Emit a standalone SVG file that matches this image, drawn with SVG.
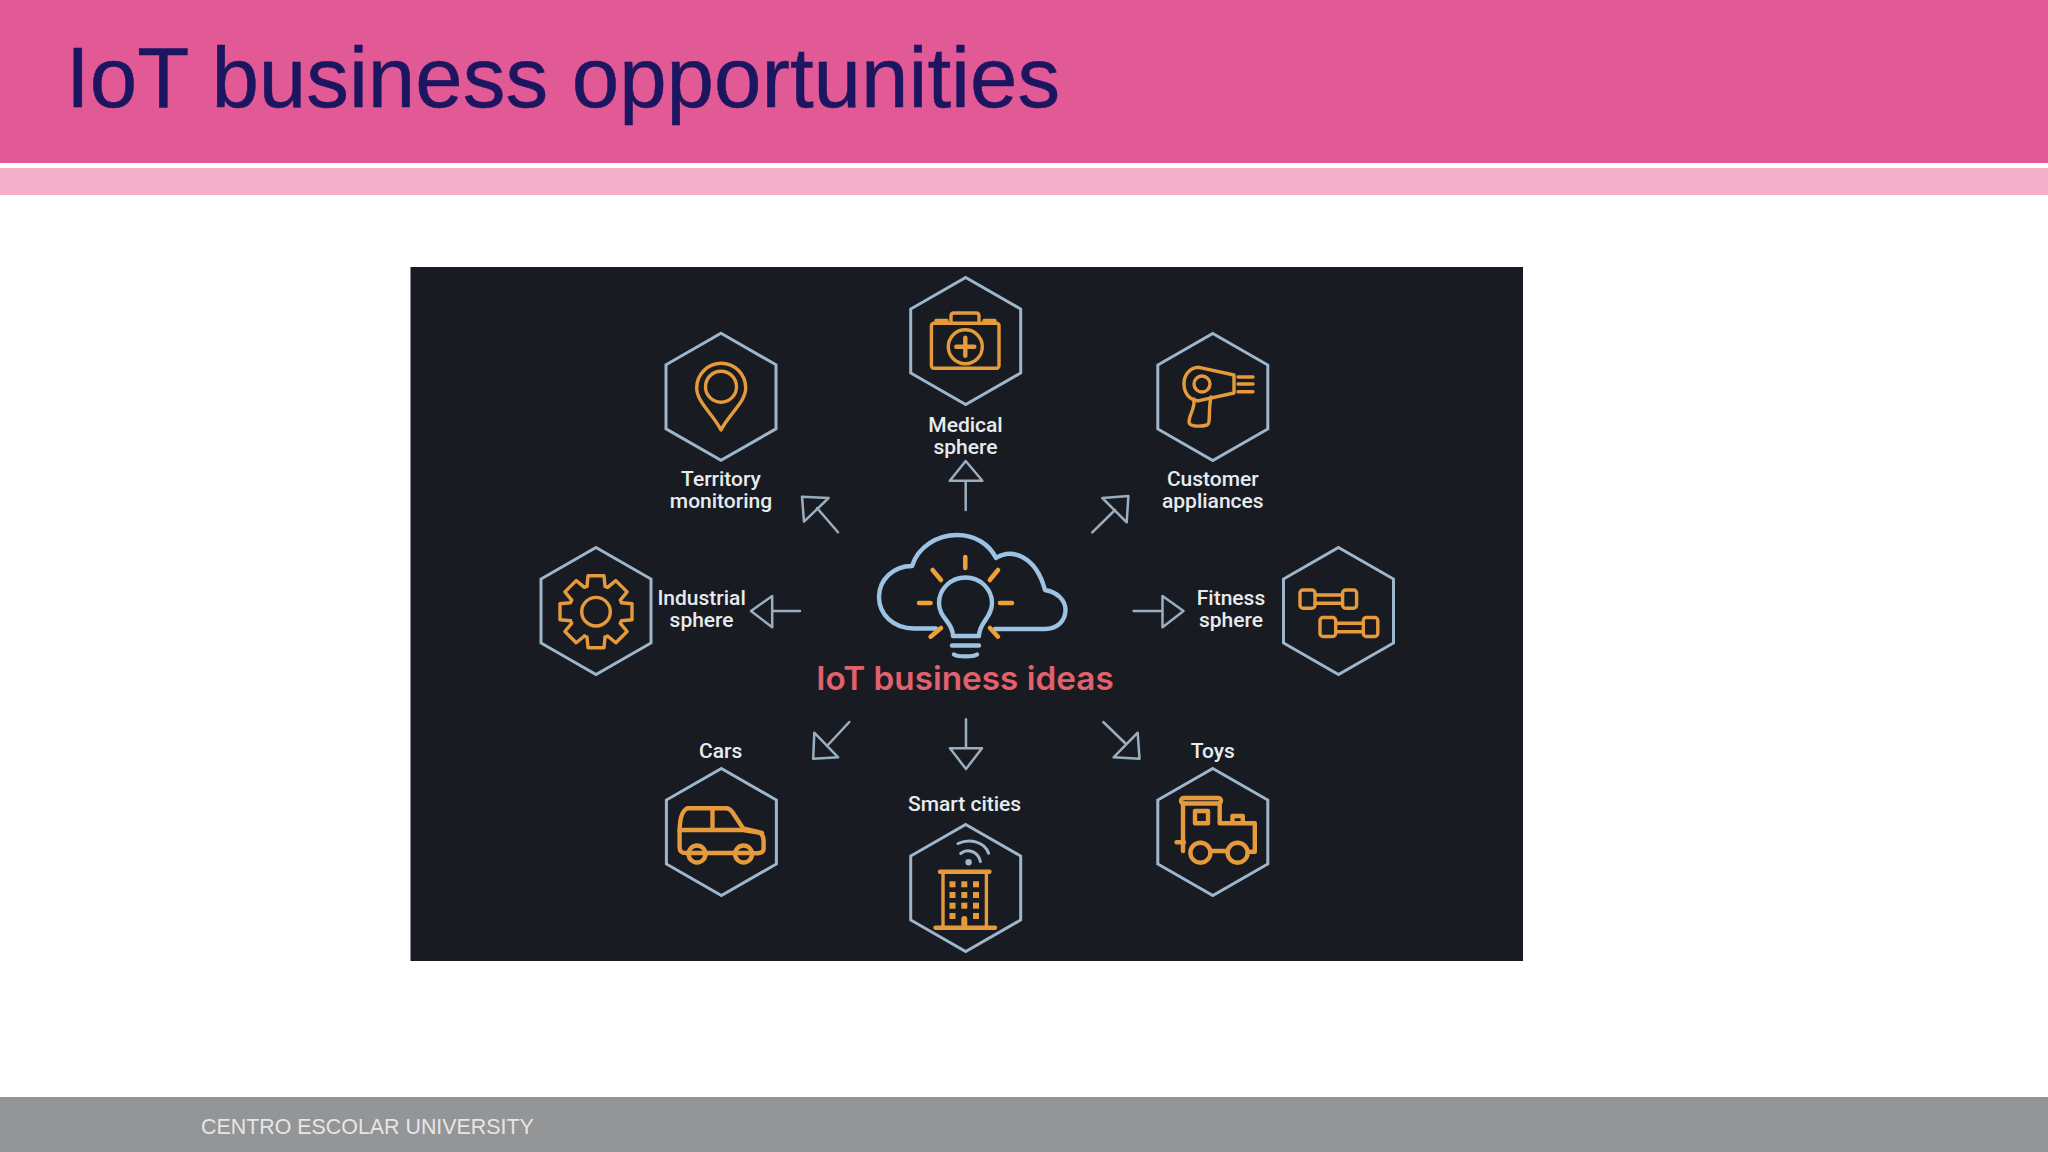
<svg xmlns="http://www.w3.org/2000/svg" xmlns:xlink="http://www.w3.org/1999/xlink" width="2048" height="1152" viewBox="0 0 2048 1152">
<style>
.hex{fill:none;stroke:#9db6cc;stroke-width:3;stroke-linejoin:miter}
.ic{fill:none;stroke:#e59a3c;stroke-width:3.4;stroke-linejoin:round;stroke-linecap:round}
.ict{fill:none;stroke:#e59a3c;stroke-width:4.4;stroke-linejoin:round;stroke-linecap:round}
.win{fill:#e59a3c}
.arr{fill:none;stroke:#9aaebf;stroke-width:2.5;stroke-linejoin:round;stroke-linecap:round}
.cl{fill:none;stroke:#9cc3e4;stroke-width:4.4;stroke-linejoin:round;stroke-linecap:round}
.ray{fill:none;stroke:#eda136;stroke-width:4.5;stroke-linecap:round}
.lb{font-family:Roboto,"Liberation Sans",sans-serif;font-weight:500;font-size:21px;fill:#e8ebee;text-anchor:middle}
</style>
<defs>
<polygon id="hx" class="hex" points="0,-63.5 55,-32 55,32 0,63.5 -55,32 -55,-32"/>
<path id="tooth" d="M-9 -25.4L-8 -36H8L9 -25.4A27 27 0 0 1 11.6 -24.4"/>
</defs>
<rect width="2048" height="1152" fill="#ffffff"/>
<rect id="header" width="2048" height="163" fill="#e15a96"/>
<rect id="band" y="168" width="2048" height="27" fill="#f4afcb"/>
<text id="title" x="66" y="107" font-family="'Liberation Sans',Arial,sans-serif" font-size="85.3" fill="#1c1560" stroke="#1c1560" stroke-width="0.5">IoT business opportunities</text>
<rect id="footer" y="1097" width="2048" height="55" fill="#949596"/>
<text id="footer-text" x="201" y="1134" font-family="'Liberation Sans',Arial,sans-serif" font-size="21.4" fill="#e6e6e6">CENTRO ESCOLAR UNIVERSITY</text>
<rect id="panel" x="410.5" y="267" width="1112.5" height="694" fill="#181c22"/>

<g id="connectors">
<path class="arr" d="M965.7 510V481M965.7 461L949.8 480.7H982.4Z"/>
<path class="arr" d="M838 532.3L817 508M802 496.7L828.6 498L804 521.7Z"/>
<path class="arr" d="M800 611H772M751 611L772.2 596V627.3Z"/>
<path class="arr" d="M1092.3 532.3L1115 510M1128.4 496L1102.3 498L1126.7 522.3Z"/>
<path class="arr" d="M1133.6 611H1162M1183.5 611L1162.5 596V627.3Z"/>
<path class="arr" d="M849.3 722L827 746M813.2 758.7L814.3 732.7L838.2 757.3Z"/>
<path class="arr" d="M966 719.3V748M966 769L950 748.3H982Z"/>
<path class="arr" d="M1103.3 722L1126 744M1139.5 758.7L1137.7 732.7L1113.6 757.3Z"/>
</g>

<g id="center">
<path class="cl" d="M936 628.5H914C893 628.5 879 614 879 597C879 580 893 566 912 566C918 547 937 535 957 535C975 535 989 544 996 558C1012 548 1036 556 1045 590C1057 592 1065.5 600 1065.5 610C1065.5 621 1057 629 1045 629H995"/>
<path class="cl" d="M953 636C953 622 939 618 939 603A26.5 25.5 0 1 1 992 603C992 618 979 622 979 636Z"/>
<path class="cl" d="M952 645.5H979M954 654.5C958 657 973 657 977 654.5"/>
<path class="ray" d="M965.3 557V568M932.6 570L941 580M998 570L989.8 580M919 603H930.6M1000 603H1012M930.6 636.7L941 628M998 636.7L990 628"/>
<text x="965" y="689.5" font-family="Inter,Roboto,'Liberation Sans',sans-serif" font-weight="600" font-size="33.3" fill="#e3606d" text-anchor="middle">IoT business ideas</text>
</g>

<g id="medical">
<use href="#hx" xlink:href="#hx" x="965.7" y="341"/>
<rect class="ic" x="931.4" y="323.3" width="67.6" height="45" rx="2.5"/>
<path class="ic" d="M951 323V316Q951 313 954 313H976Q979 313 979 316V323M936 323V320.5H947M984 323V320.5H995"/>
<circle class="ic" cx="965.3" cy="346.7" r="17"/>
<path class="ict" d="M965.3 337.7V355.7M956.3 346.7H974.3"/>
<text class="lb" x="965.5" y="432">Medical</text><text class="lb" x="965.5" y="454">sphere</text>
</g>

<g id="territory">
<use href="#hx" xlink:href="#hx" x="721" y="396.8"/>
<path class="ic" d="M721 430C713 414 696.7 402 696.7 388A24.5 24.7 0 0 1 745.7 388C745.7 402 729 414 721 430Z"/>
<circle class="ic" cx="721" cy="386.7" r="15.5"/>
<text class="lb" x="721" y="486">Territory</text><text class="lb" x="721" y="507.5">monitoring</text>
</g>

<g id="customer">
<use href="#hx" xlink:href="#hx" x="1212.8" y="397"/>
<path class="ic" d="M1199 367.3C1188 367.5 1184 377 1184 384C1184 393 1190 401 1199 400.7L1234 393V375L1199 367.3Z"/>
<circle class="ic" cx="1202" cy="384" r="8"/>
<path class="ic" d="M1194 399C1195 410 1189 414 1189 422C1189 426.5 1200 427 1207 425C1211 424 1208 410 1211 397"/>
<path class="ic" d="M1238 377H1253M1238 384H1253M1238 391.7H1253"/>
<text class="lb" x="1212.8" y="486">Customer</text><text class="lb" x="1212.8" y="507.5">appliances</text>
</g>

<g id="industrial">
<use href="#hx" xlink:href="#hx" x="596" y="611"/>
<g class="ic" transform="translate(596 611.7)">
<use href="#tooth" xlink:href="#tooth"/>
<use href="#tooth" xlink:href="#tooth" transform="rotate(45)"/>
<use href="#tooth" xlink:href="#tooth" transform="rotate(90)"/>
<use href="#tooth" xlink:href="#tooth" transform="rotate(135)"/>
<use href="#tooth" xlink:href="#tooth" transform="rotate(180)"/>
<use href="#tooth" xlink:href="#tooth" transform="rotate(225)"/>
<use href="#tooth" xlink:href="#tooth" transform="rotate(270)"/>
<use href="#tooth" xlink:href="#tooth" transform="rotate(315)"/>
<circle r="14.3"/>
</g>
<text class="lb" x="701.6" y="605">Industrial</text><text class="lb" x="701.6" y="627">sphere</text>
</g>

<g id="fitness">
<use href="#hx" xlink:href="#hx" x="1338.5" y="611"/>
<rect class="ic" x="1300" y="590" width="15" height="18.3" rx="3"/>
<rect class="ic" x="1342.6" y="590" width="14" height="18.3" rx="3"/>
<path class="ic" d="M1315 595H1342.6M1315 603.3H1342.6"/>
<rect class="ic" x="1320" y="617.5" width="15.7" height="19" rx="3"/>
<rect class="ic" x="1363.3" y="617.5" width="14.5" height="19" rx="3"/>
<path class="ic" d="M1335.7 623.3H1363.3M1335.7 631.7H1363.3"/>
<text class="lb" x="1231" y="605">Fitness</text><text class="lb" x="1231" y="627">sphere</text>
</g>

<g id="cars">
<use href="#hx" xlink:href="#hx" x="721.4" y="832"/>
<path class="ict" d="M686 853C681 853 679.6 851 679.6 847V830C680 820 681 812 687 808.3H726C729 808.3 731 810 733 813L743 828.3L758 832C762 833 763.6 837 763.6 841V849C763.6 852 761 853.3 755 853.3"/>
<path class="ict" d="M679.6 830H743L762 833M712.5 809V829M688 853H753"/>
<circle class="ict" cx="697" cy="854" r="8.5"/>
<circle class="ict" cx="743.6" cy="854" r="8.5"/>
<text class="lb" x="720.7" y="757.7">Cars</text>
</g>

<g id="smart-cities">
<use href="#hx" xlink:href="#hx" x="965.7" y="888"/>
<path class="hex" stroke-linecap="round" stroke-width="2.5" d="M958 843.5C970 838 985 842 988.6 853.3M960.7 853.5C967 848 978 851 980.4 861.5"/>
<circle cx="968.6" cy="862.3" r="3.2" fill="#9db6cc"/>
<path class="ict" d="M940 871.7H989.5M935.5 927.7H995"/>
<path class="ic" d="M943 872V927M986.4 872V927"/>
<g class="win">
<rect x="949.5" y="881.3" width="6" height="6"/><rect x="961.3" y="881.3" width="6" height="6"/><rect x="973" y="881.3" width="6" height="6"/>
<rect x="949.5" y="892" width="6" height="6"/><rect x="961.3" y="892" width="6" height="6"/><rect x="973" y="892" width="6" height="6"/>
<rect x="949.5" y="902.7" width="6" height="6"/><rect x="961.3" y="902.7" width="6" height="6"/><rect x="973" y="902.7" width="6" height="6"/>
<rect x="949.5" y="913" width="6" height="6"/><rect x="973" y="913" width="6" height="6"/>
<rect x="961.3" y="916" width="6" height="12" rx="3"/>
</g>
<text class="lb" x="964.6" y="810.7">Smart cities</text>
</g>

<g id="toys">
<use href="#hx" xlink:href="#hx" x="1212.8" y="832"/>
<rect class="ict" x="1181" y="798" width="40" height="5.5" rx="2.7"/>
<path class="ict" d="M1183 803V851M1219.7 803V823.3H1254.8V851.7M1176.5 842.3H1184M1210 851H1227M1248 851.7H1254.8"/>
<rect class="ict" x="1195" y="811" width="13" height="12.3"/>
<path class="ict" d="M1232.5 823V816H1242.8V823"/>
<circle class="ict" cx="1200.4" cy="852.7" r="10" fill="#181c22"/>
<circle class="ict" cx="1237.6" cy="852.7" r="10" fill="#181c22"/>
<text class="lb" x="1212.8" y="757.7">Toys</text>
</g>
</svg>
